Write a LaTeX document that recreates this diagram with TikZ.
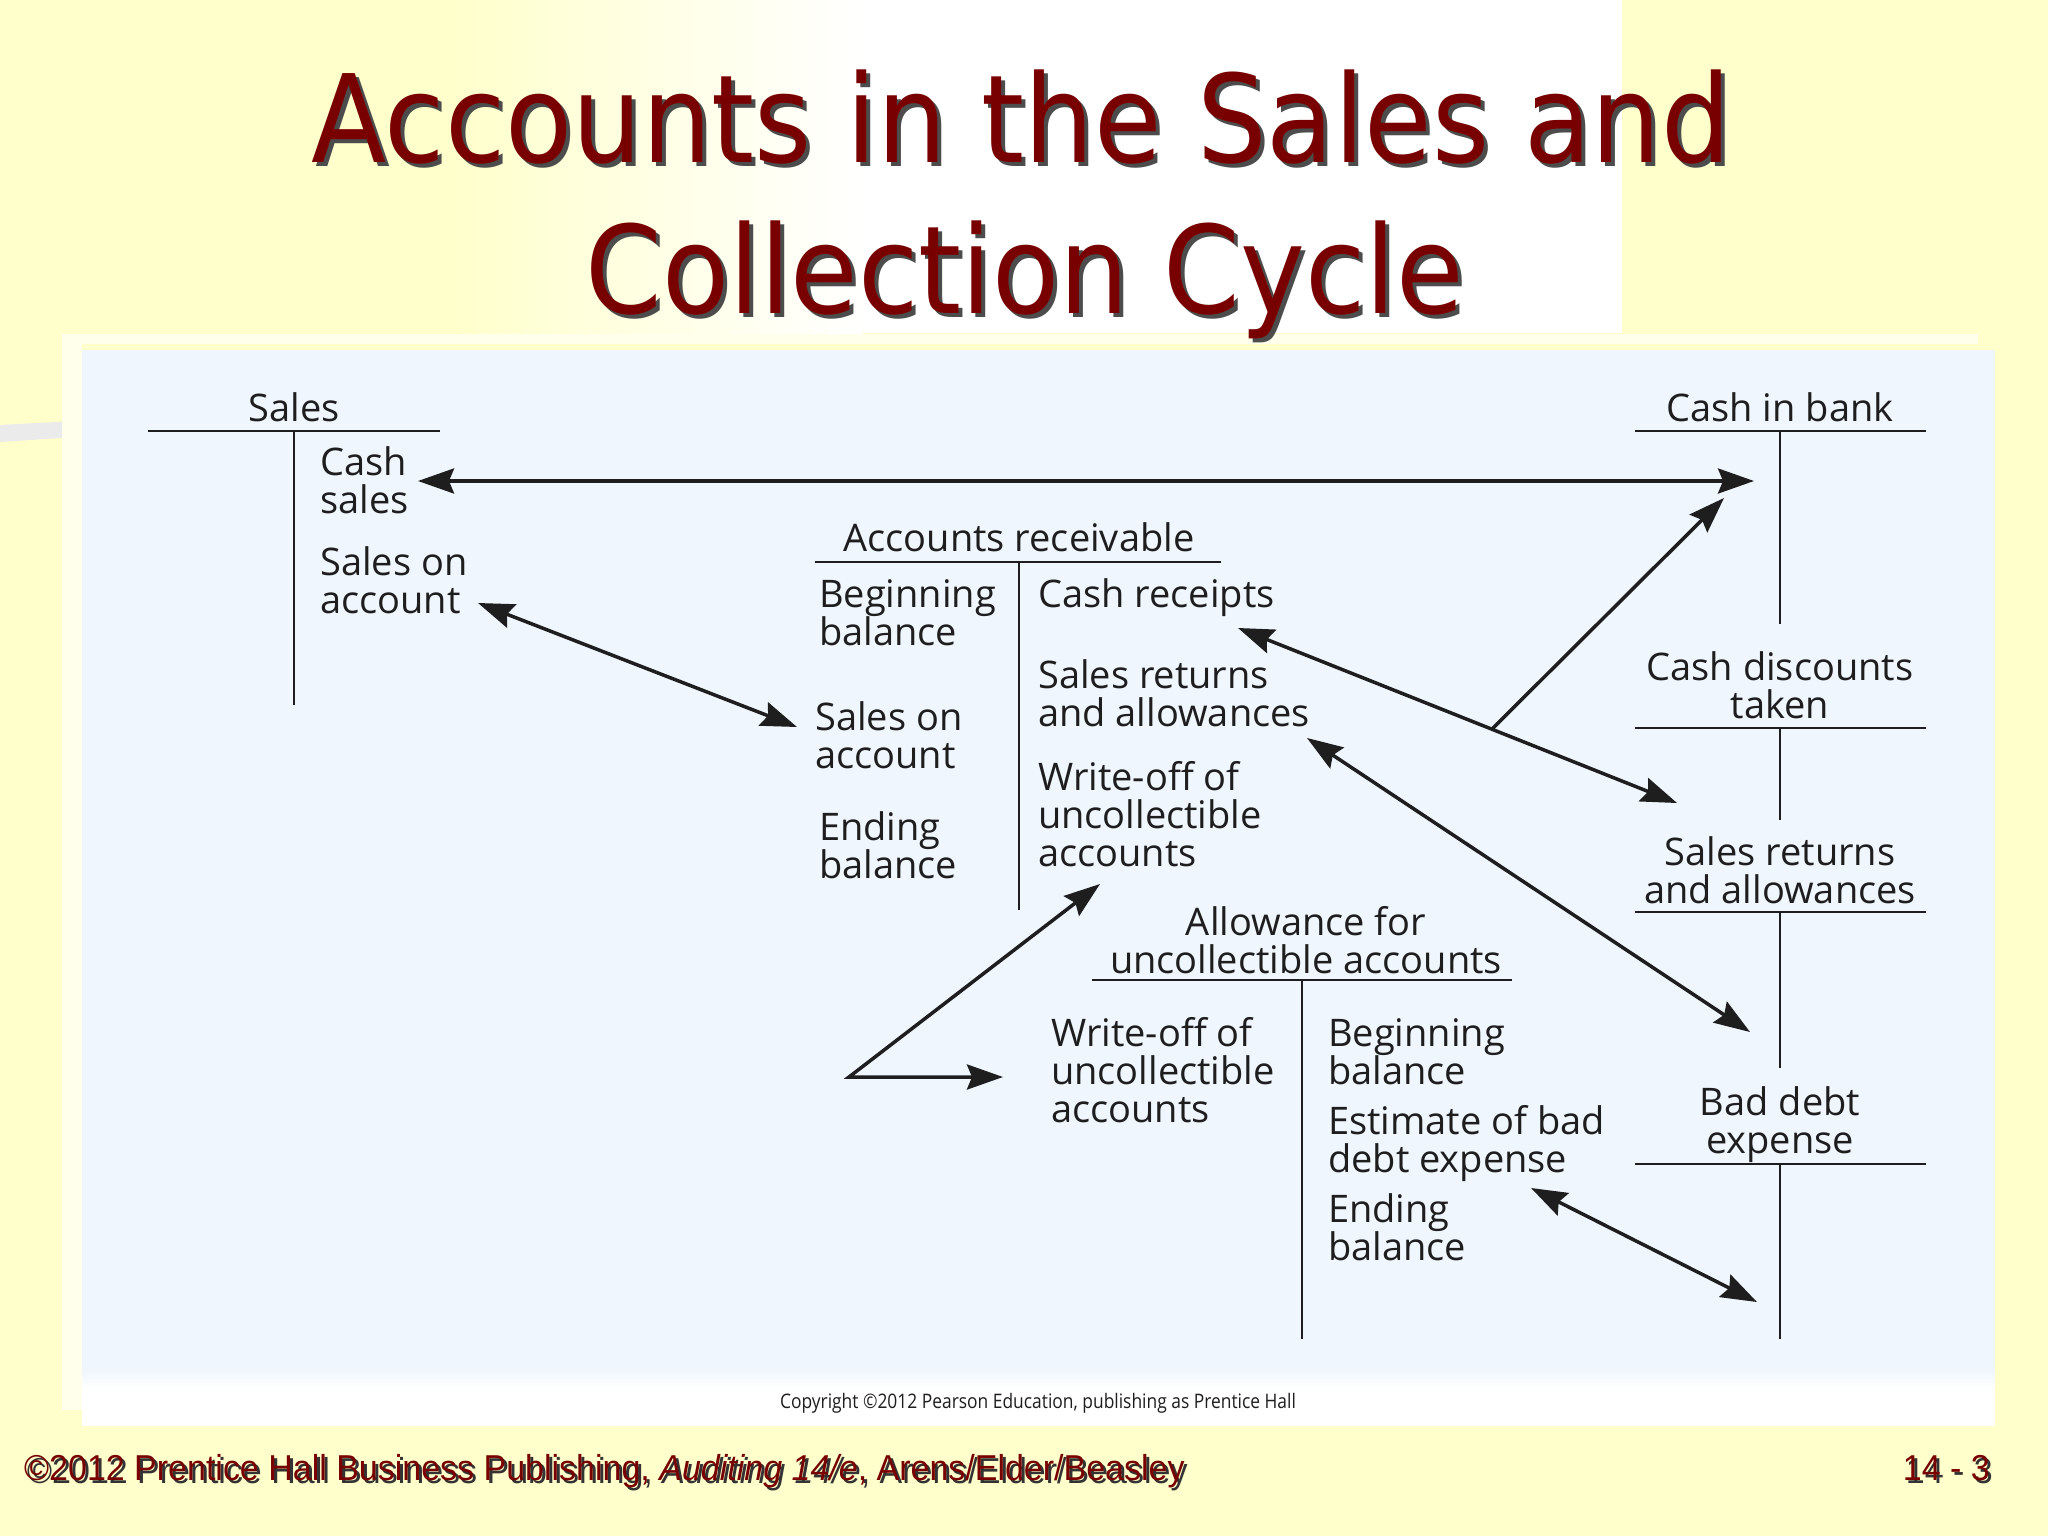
\documentclass[tikz,border=0pt]{standalone}
\usepackage{fontspec}
\setmainfont{Open Sans}
\newfontfamily\titlefont[FakeStretch=0.9]{DejaVu Sans}
\newfontfamily\footfont[FakeStretch=0.944]{Liberation Sans}
\usetikzlibrary{arrows.meta}
\definecolor{slide}{RGB}{255,255,204}
\definecolor{paleframe}{RGB}{255,255,236}
\definecolor{panel}{RGB}{239,246,253}
\definecolor{titlered}{RGB}{120,0,0}
\definecolor{ink}{RGB}{30,30,30}
\newcommand\dgf{\fontsize{38}{38}\selectfont}
\newcommand\mlL[1]{\vtop{\baselineskip=38pt\lineskiplimit=-\maxdimen\lineskip=0pt\halign{##\hfil\cr#1\crcr}}}
\newcommand\mlC[1]{\vtop{\baselineskip=38pt\lineskiplimit=-\maxdimen\lineskip=0pt\halign{\hfil##\hfil\cr#1\crcr}}}
\begin{document}
\begin{tikzpicture}[x=1pt,y=-1pt,
  txt/.style={inner sep=0pt, font=\dgf, text=ink, anchor=base west},
  ctxt/.style={inner sep=0pt, font=\dgf, text=ink, anchor=base},
  tline/.style={line width=2.4pt, draw=ink},
  link/.style={line width=3.5pt, draw=ink, {Stealth[length=36pt,width=25pt,inset=5pt]}-{Stealth[length=36pt,width=25pt,inset=5pt]}},
  onelink/.style={line width=3.5pt, draw=ink, -{Stealth[length=36pt,width=25pt,inset=5pt]}},
  ttl/.style={font=\titlefont\fontsize{122}{130}\selectfont, anchor=base, inner sep=0pt},
  ftr/.style={font=\footfont\fontsize{36}{40}\selectfont, inner sep=0pt},
]
\useasboundingbox (0,0) rectangle (2048,1536);
% background
\fill[slide] (0,0) rectangle (2048,1536);
\shade[left color=slide, right color=white] (457,0) rectangle (862,333);
\fill[white] (862,0) rectangle (1622,333);
\fill[black!8] (0,425) -- (75,421) -- (75,437) -- (0,442) -- cycle;
\fill[paleframe] (62,334) rectangle (1978,344);
\fill[paleframe] (62,334) rectangle (82,1410);
\fill[white] (82,1372) rectangle (1995,1426);
\fill[panel] (82,350) rectangle (1995,1372);
\shade[top color=panel, bottom color=white] (82,1371) rectangle (1995,1388);

% title
\node[ttl, text=black!70] (t1s) at (1025,167) {Accounts in the Sales and};
\node[ttl, text=titlered] (t1) at (1021,163) {Accounts in the Sales and};
\node[ttl, text=black!70] (t2s) at (1029,317) {Collection Cycle};
\node[ttl, text=titlered] (t2) at (1025,313) {Collection Cycle};

% Sales T-account
\node[ctxt] (salesT) at (294,421) {Sales};
\draw[tline] (148,431) -- (440,431);
\draw[tline] (294,431) -- (294,705);
\node[txt] (cashsales) at (320,475) {\mlL{Cash\cr sales}};
\node[txt] (salesonacc) at (320,575) {\mlL{Sales on\cr account}};

% Cash in bank and right-hand accounts
\node[ctxt] (cibT) at (1780,421) {Cash in bank};
\draw[tline] (1635,431) -- (1926,431);
\draw[tline] (1780,431) -- (1780,624);
\node[ctxt] (cdT) at (1780,680) {\mlC{Cash discounts\cr taken}};
\draw[tline] (1635,728) -- (1926,728);
\draw[tline] (1780,728) -- (1780,820);
\node[ctxt] (srT) at (1780,865) {\mlC{Sales returns\cr and allowances}};
\draw[tline] (1635,912) -- (1926,912);
\draw[tline] (1780,912) -- (1780,1068);
\node[ctxt] (bdT) at (1780,1115) {\mlC{Bad debt\cr expense}};
\draw[tline] (1635,1164) -- (1926,1164);
\draw[tline] (1780,1164) -- (1780,1339);

% Accounts receivable
\node[ctxt] (arT) at (1019,551) {Accounts receivable};
\draw[tline] (815,562) -- (1221,562);
\draw[tline] (1019,562) -- (1019,910);
\node[txt] (arbeg) at (819,607) {\mlL{Beginning\cr balance}};
\node[txt] (arsoa) at (815,730) {\mlL{Sales on\cr account}};
\node[txt] (arend) at (819,840) {\mlL{Ending\cr balance}};
\node[txt] (arcr) at (1038,607) {Cash receipts};
\node[txt] (arsr) at (1038,688) {\mlL{Sales returns\cr and allowances}};
\node[txt] (arwo) at (1038,790) {\mlL{Write-off of\cr uncollectible\cr accounts}};

% Allowance
\node[ctxt] (alT) at (1306,935) {\mlC{Allowance for\cr uncollectible accounts}};
\draw[tline] (1092,980) -- (1512,980);
\draw[tline] (1302,980) -- (1302,1339);
\node[txt] (alwo) at (1051,1046) {\mlL{Write-off of\cr uncollectible\cr accounts}};
\node[txt] (albeg) at (1328,1046) {\mlL{Beginning\cr balance}};
\node[txt] (alest) at (1328,1134) {\mlL{Estimate of bad\cr debt expense}};
\node[txt] (alend) at (1328,1222) {\mlL{Ending\cr balance}};

% arrow end points
\coordinate (a1) at (418,481);
\coordinate (a2) at (1754,481);
\coordinate (b1) at (478,603);
\coordinate (b2) at (797,727);
\coordinate (c1) at (1238,628);
\coordinate (c2) at (1677,803);
\coordinate (cj) at (1492,729);
\coordinate (c3) at (1724,498);
\coordinate (d1) at (1307,738);
\coordinate (d2) at (1750,1032);
\coordinate (e1) at (1100,884);
\coordinate (e2) at (849,1077);
\coordinate (e3) at (1003,1077);
\coordinate (f1) at (1531,1188);
\coordinate (f2) at (1757,1302);

\draw[link] (a1) -- (a2);
\draw[link] (b1) -- (b2);
\draw[link] (c1) -- (c2);
\draw[onelink] (cj) -- (c3);
\draw[link] (d1) -- (d2);
\draw[link, line join=miter] (e1) -- (e2) -- (e3);
\draw[link] (f1) -- (f2);

% copyright
\node[anchor=base, inner sep=0pt, font=\fontsize{20}{22}\selectfont, text=ink] (copy) at (1038,1408) {\scalebox{0.87}[1]{Copyright ©2012 Pearson Education, publishing as Prentice Hall}};

% footer
\node[ftr, anchor=base west, text=black!80] (foots) at (27,1483) {©2012 Prentice Hall Business Publishing, \textit{Auditing 14/e}, Arens/Elder/Beasley};
\node[ftr, anchor=base west, text=titlered] (foot) at (24,1480) {©2012 Prentice Hall Business Publishing, \textit{Auditing 14/e}, Arens/Elder/Beasley};
\node[ftr, anchor=base east, text=black!80] (pages) at (1993,1483) {14 - 3};
\node[ftr, anchor=base east, text=titlered] (page) at (1990,1480) {14 - 3};
\end{tikzpicture}
\end{document}
